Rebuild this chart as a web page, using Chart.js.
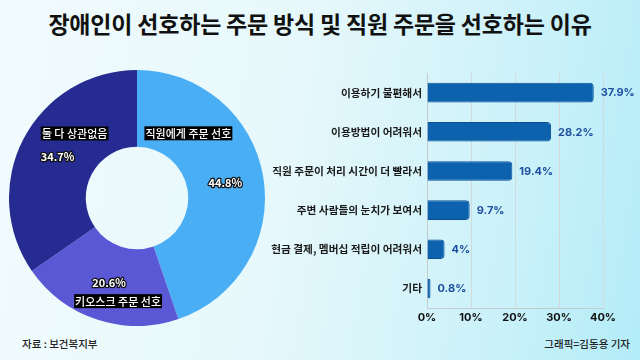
<!DOCTYPE html>
<html><head><meta charset="utf-8">
<script src="https://cdn.jsdelivr.net/npm/chart.js@4/dist/chart.umd.min.js"></script>
<style>
html,body{margin:0;padding:0;}
body{width:640px;height:360px;overflow:hidden;position:relative;font-family:"Noto Sans CJK KR","Noto Sans",sans-serif;
background:linear-gradient(100deg,#f2fbfd 0%,#e6f8fb 45%,#c9f1f9 80%,#b3ecf8 100%);}
#title{position:absolute;left:0;width:640px;top:6px;text-align:center;font-size:23px;font-weight:700;color:#111;letter-spacing:-0.2px;white-space:nowrap;}
#src{position:absolute;left:22px;top:336px;font-size:10.5px;color:#222;font-weight:500;}
#credit{position:absolute;right:10px;top:336px;font-size:10.5px;color:#222;font-weight:500;}
#pie{position:absolute;left:9px;top:70px;}
#bar{position:absolute;left:270px;top:60px;}
</style></head>
<body>
<div id="title">장애인이 선호하는 주문 방식 및 직원 주문을 선호하는 이유</div>
<div id="src">자료 : 보건복지부</div>
<div id="credit">그래픽=김동용 기자</div>
<canvas id="pie" width="256" height="256"></canvas>
<canvas id="bar" width="370" height="270"></canvas>
<script>
// ---- data ----
const pieLabels = ['직원에게 주문 선호', '키오스크 주문 선호', '둘 다 상관없음'];
const pieValues = [44.8, 20.6, 34.7];
const pieColors = ['#4aaef5', '#5b58d5', '#252b90'];

const barLabels = ['이용하기 불편해서', '이용방법이 어려워서', '직원 주문이 처리 시간이 더 빨라서', '주변 사람들의 눈치가 보여서', '현금 결제, 멤버십 적립이 어려워서', '기타'];
const barValues = [37.9, 28.2, 19.4, 9.7, 4, 0.8];
const xTicks = [0, 10, 20, 30, 40];

// label placement offsets (relative to each slice's centre point), layout only
const pieLabelOffsets = [[-37, -50], [9, 18], [17, -23]];

const KFONT = '"Noto Sans CJK KR","Noto Sans",sans-serif';

const pieLabelPlugin = {
  id: 'pieLabels',
  afterDatasetsDraw(chart) {
    const ctx = chart.ctx;
    const meta = chart.getDatasetMeta(0);
    meta.data.forEach((arc, i) => {
      const p = arc.getCenterPoint();
      ctx.save();
      ctx.font = '700 11px ' + KFONT;
      ctx.textAlign = 'center';
      ctx.textBaseline = 'middle';
      const t = pieValues[i].toFixed(1) + '%';
      ctx.lineWidth = 2.5;
      ctx.strokeStyle = '#111';
      ctx.lineJoin = 'round';
      ctx.strokeText(t, p.x, p.y);
      ctx.fillStyle = '#fff';
      ctx.fillText(t, p.x, p.y);
      const [ox, oy] = pieLabelOffsets[i];
      const lx = p.x + ox, ly = p.y + oy;
      ctx.font = '500 11px ' + KFONT;
      const w = ctx.measureText(pieLabels[i]).width;
      ctx.fillStyle = '#000';
      ctx.fillRect(lx - w / 2 - 1, ly - 7, w + 2, 14);
      ctx.fillStyle = '#fff';
      ctx.fillText(pieLabels[i], lx, ly + 0.5);
      ctx.restore();
    });
  }
};

new Chart(document.getElementById('pie'), {
  type: 'doughnut',
  data: { labels: pieLabels, datasets: [{ data: pieValues, backgroundColor: pieColors, borderWidth: 0 }] },
  options: {
    responsive: false, animation: false, cutout: '40%',
    layout: { padding: 0 },
    plugins: { legend: { display: false }, tooltip: { enabled: false } }
  },
  plugins: [pieLabelPlugin]
});

const barValuePlugin = {
  id: 'barValues',
  afterDatasetsDraw(chart) {
    const ctx = chart.ctx;
    const meta = chart.getDatasetMeta(0);
    ctx.save();
    ctx.font = '700 11px Inter, "Noto Sans", sans-serif';
    ctx.fillStyle = '#1d4fa0';
    ctx.textAlign = 'left';
    ctx.textBaseline = 'middle';
    meta.data.forEach((bar, i) => {
      ctx.fillText(barValues[i] + '%', bar.x + 7, bar.y + 0.5);
    });
    ctx.restore();
  }
};

new Chart(document.getElementById('bar'), {
  type: 'bar',
  data: { labels: barLabels, datasets: [{ data: barValues, backgroundColor: '#0d62ae', borderColor: '#0a4f98', borderWidth: 1, borderRadius: 4, categoryPercentage: 1, barPercentage: 0.5 }] },
  options: {
    indexAxis: 'y', responsive: false, animation: false,
    layout: { padding: { top: 13, right: 37, left: 0, bottom: 0 } },
    plugins: { legend: { display: false }, tooltip: { enabled: false } },
    scales: {
      x: {
        min: 0, max: 40,
        afterBuildTicks(s) { s.ticks = xTicks.map(v => ({ value: v })); },
        afterFit(s) { s.height = 22; },
        grid: { color: '#d2dadd', drawTicks: false },
        border: { color: '#c4cccf' },
        ticks: { padding: 3, color: '#111', font: { family: 'Inter, "Noto Sans", sans-serif', weight: '700', size: 11 }, callback: v => v + '%' }
      },
      y: {
        afterFit(s) { s.width = 157; },
        grid: { display: false, drawTicks: false },
        border: { color: '#c4cccf' },
        ticks: { padding: 5, color: '#1a1a1a', font: { family: KFONT, weight: '700', size: 10.7 } }
      }
    }
  },
  plugins: [barValuePlugin]
});
</script>
</body></html>
